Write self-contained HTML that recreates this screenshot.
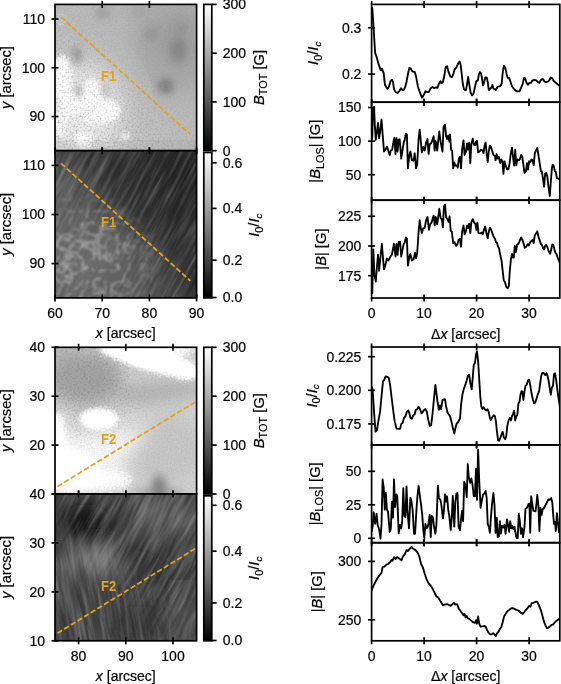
<!DOCTYPE html>
<html><head><meta charset="utf-8"><title>figure</title>
<style>html,body{margin:0;padding:0;background:#fff}svg{display:block}text{font-family:"Liberation Sans", sans-serif;fill:#000;stroke:#000;stroke-width:0.2px}</style>
</head><body>
<svg width="561" height="684" viewBox="0 0 561 684">
<rect width="561" height="684" fill="#fff"/>
<defs>
<linearGradient id="cbg" x1="0" y1="1" x2="0" y2="0"><stop offset="0" stop-color="#000"/><stop offset="1" stop-color="#fff"/></linearGradient>
<clipPath id="clip0"><rect x="55.0" y="4.4" width="141.6" height="146.29999999999998"/></clipPath>
<clipPath id="clip1"><rect x="55.0" y="150.7" width="141.6" height="147.2"/></clipPath>
<clipPath id="clip2"><rect x="55.0" y="347.3" width="141.6" height="146.7"/></clipPath>
<clipPath id="clip3"><rect x="55.0" y="494.0" width="141.6" height="146.79999999999995"/></clipPath>

<filter id="b1" x="-5%" y="-5%" width="110%" height="110%"><feGaussianBlur stdDeviation="0.8"/></filter>
<filter id="b3" x="-30%" y="-30%" width="160%" height="160%"><feGaussianBlur stdDeviation="3"/></filter>
<filter id="b5" x="-30%" y="-30%" width="160%" height="160%"><feGaussianBlur stdDeviation="5"/></filter>
<filter id="b8" x="-40%" y="-40%" width="180%" height="180%"><feGaussianBlur stdDeviation="8"/></filter>
<filter id="b14" x="-50%" y="-50%" width="200%" height="200%"><feGaussianBlur stdDeviation="14"/></filter>
<filter id="satW" filterUnits="userSpaceOnUse" x="40" y="0" width="170" height="650" color-interpolation-filters="sRGB">
 <feGaussianBlur in="SourceGraphic" stdDeviation="4" result="bl"/>
 <feTurbulence type="fractalNoise" baseFrequency="0.5" numOctaves="2" seed="3" result="n"/>
 <feColorMatrix in="n" type="matrix" values="0 0 0 0 1  0 0 0 0 1  0 0 0 0 1  1 0 0 0 0" result="na"/>
 <feComposite in="bl" in2="na" operator="arithmetic" k1="0" k2="1" k3="0.7" k4="-0.35" result="sum"/>
 <feComponentTransfer><feFuncA type="linear" slope="2.0" intercept="-0.4"/></feComponentTransfer>
 <feGaussianBlur stdDeviation="0.45"/>
</filter>
<filter id="grainD" x="0" y="0" width="100%" height="100%" color-interpolation-filters="sRGB">
 <feTurbulence type="fractalNoise" baseFrequency="0.5" numOctaves="2" seed="7"/>
 <feColorMatrix type="matrix" values="0 0 0 0 0.45  0 0 0 0 0.45  0 0 0 0 0.45  3.4 0 0 0 -1.6"/>
</filter>
<filter id="grainW" x="0" y="0" width="100%" height="100%" color-interpolation-filters="sRGB">
 <feTurbulence type="fractalNoise" baseFrequency="0.3" numOctaves="2" seed="21"/>
 <feColorMatrix type="matrix" values="0 0 0 0 1  0 0 0 0 1  0 0 0 0 1  0 3.4 0 0 -1.4"/>
</filter>
<filter id="fineN" x="0" y="0" width="100%" height="100%" color-interpolation-filters="sRGB">
 <feTurbulence type="fractalNoise" baseFrequency="0.7" numOctaves="1" seed="11"/>
 <feColorMatrix type="matrix" values="0 0 0 0 0.5  0 0 0 0 0.5  0 0 0 0 0.5  1.2 0 0 0 -0.45"/>
</filter>
<filter id="fibW" x="0" y="0" width="100%" height="100%" color-interpolation-filters="sRGB">
 <feTurbulence type="fractalNoise" baseFrequency="0.022 0.28" numOctaves="2" seed="5"/>
 <feColorMatrix type="matrix" values="0 0 0 0 1  0 0 0 0 1  0 0 0 0 1  2.4 0 0 0 -0.95"/><feGaussianBlur stdDeviation="0.6"/>
</filter>
<filter id="fibD" x="0" y="0" width="100%" height="100%" color-interpolation-filters="sRGB">
 <feTurbulence type="fractalNoise" baseFrequency="0.026 0.3" numOctaves="2" seed="9"/>
 <feColorMatrix type="matrix" values="0 0 0 0 0  0 0 0 0 0  0 0 0 0 0  0 2.4 0 0 -0.95"/><feGaussianBlur stdDeviation="0.6"/>
</filter>
<filter id="blotW" x="0" y="0" width="100%" height="100%" color-interpolation-filters="sRGB">
 <feTurbulence type="turbulence" baseFrequency="0.085" numOctaves="3" seed="4"/>
 <feColorMatrix type="matrix" values="0 0 0 0 1  0 0 0 0 1  0 0 0 0 1  -3.4 0 0 0 0.95"/>
</filter>
<linearGradient id="mLL0" gradientUnits="userSpaceOnUse" x1="55" y1="150" x2="140" y2="60"><stop offset="0" stop-color="#fff" stop-opacity="1"/><stop offset="0.5" stop-color="#fff" stop-opacity="0.8"/><stop offset="0.85" stop-color="#fff" stop-opacity="0.25"/><stop offset="1" stop-color="#fff" stop-opacity="0"/></linearGradient>
<mask id="mask0" maskUnits="userSpaceOnUse" x="55" y="4" width="142" height="147"><rect x="55" y="4" width="142" height="147" fill="url(#mLL0)"/></mask>
<radialGradient id="mLL1" gradientUnits="userSpaceOnUse" cx="85" cy="262" r="80"><stop offset="0" stop-color="#fff" stop-opacity="1"/><stop offset="0.5" stop-color="#fff" stop-opacity="0.8"/><stop offset="1" stop-color="#fff" stop-opacity="0"/></radialGradient>
<radialGradient id="mLL1k" gradientUnits="userSpaceOnUse" cx="82" cy="262" r="78"><stop offset="0" stop-color="#000" stop-opacity="0.8"/><stop offset="0.55" stop-color="#000" stop-opacity="0.65"/><stop offset="1" stop-color="#000" stop-opacity="0"/></radialGradient>
<mask id="mask1f" maskUnits="userSpaceOnUse" x="55" y="150" width="142" height="148"><rect x="55" y="150" width="142" height="148" fill="#fff"/><rect x="55" y="150" width="142" height="148" fill="url(#mLL1k)"/></mask>
<linearGradient id="m3a" gradientUnits="userSpaceOnUse" x1="70" y1="630" x2="170" y2="520"><stop offset="0" stop-color="#fff" stop-opacity="0"/><stop offset="0.35" stop-color="#fff" stop-opacity="0.1"/><stop offset="0.65" stop-color="#fff" stop-opacity="1"/><stop offset="1" stop-color="#fff" stop-opacity="1"/></linearGradient>
<linearGradient id="m3b" gradientUnits="userSpaceOnUse" x1="70" y1="630" x2="170" y2="520"><stop offset="0" stop-color="#fff" stop-opacity="1"/><stop offset="0.35" stop-color="#fff" stop-opacity="0.9"/><stop offset="0.65" stop-color="#fff" stop-opacity="0"/><stop offset="1" stop-color="#fff" stop-opacity="0"/></linearGradient>
<mask id="mask3a" maskUnits="userSpaceOnUse" x="55" y="494" width="142" height="148"><rect x="55" y="494" width="142" height="148" fill="url(#m3a)"/></mask>
<mask id="mask3b" maskUnits="userSpaceOnUse" x="55" y="494" width="142" height="148"><rect x="55" y="494" width="142" height="148" fill="url(#m3b)"/></mask>
<mask id="mask1" maskUnits="userSpaceOnUse" x="55" y="150" width="142" height="148"><rect x="55" y="150" width="142" height="148" fill="url(#mLL1)"/></mask>
<radialGradient id="mUL2" gradientUnits="userSpaceOnUse" cx="85" cy="385" r="75"><stop offset="0" stop-color="#fff" stop-opacity="0.7"/><stop offset="0.6" stop-color="#fff" stop-opacity="0.45"/><stop offset="1" stop-color="#fff" stop-opacity="0"/></radialGradient>
<mask id="mask2" maskUnits="userSpaceOnUse" x="55" y="347" width="142" height="148"><rect x="55" y="347" width="142" height="148" fill="url(#mUL2)"/></mask>
<linearGradient id="g0" gradientUnits="userSpaceOnUse" x1="60" y1="150" x2="195" y2="10"><stop offset="0" stop-color="#cecece"/><stop offset="0.5" stop-color="#bebebe"/><stop offset="1" stop-color="#b0b0b0"/></linearGradient>
<linearGradient id="g1" gradientUnits="userSpaceOnUse" x1="60" y1="296" x2="190" y2="160"><stop offset="0" stop-color="#666666"/><stop offset="0.42" stop-color="#5a5a5a"/><stop offset="0.6" stop-color="#3a3a3a"/><stop offset="1" stop-color="#2c2c2c"/></linearGradient>
<linearGradient id="g2" gradientUnits="userSpaceOnUse" x1="60" y1="350" x2="190" y2="490"><stop offset="0" stop-color="#a8a8a8"/><stop offset="0.5" stop-color="#cfcfcf"/><stop offset="1" stop-color="#c4c4c4"/></linearGradient>
<linearGradient id="g3" gradientUnits="userSpaceOnUse" x1="60" y1="500" x2="190" y2="640"><stop offset="0" stop-color="#3a3a3a"/><stop offset="0.5" stop-color="#4c4c4c"/><stop offset="1" stop-color="#505050"/></linearGradient>

</defs>
<g clip-path="url(#clip0)">
<rect x="55.0" y="4.4" width="141.6" height="146.29999999999998" fill="url(#g0)" /><g filter="url(#b14)"><ellipse cx="172" cy="50" rx="38" ry="45" fill="#000" fill-opacity="0.1"/><ellipse cx="78" cy="108" rx="44" ry="46" fill="#fff" fill-opacity="0.72"/><ellipse cx="100" cy="142" rx="50" ry="10" fill="#fff" fill-opacity="0.2"/></g><g filter="url(#b5)"><ellipse cx="165.6" cy="86.2" rx="6" ry="5" fill="#181818" fill-opacity="0.6"/><ellipse cx="178" cy="50" rx="9" ry="12" fill="#404040" fill-opacity="0.3"/><ellipse cx="181" cy="28" rx="7" ry="7" fill="#404040" fill-opacity="0.2"/><ellipse cx="151" cy="34" rx="8" ry="8" fill="#505050" fill-opacity="0.2"/><ellipse cx="102.8" cy="12.7" rx="7" ry="5" fill="#404040" fill-opacity="0.3"/><ellipse cx="138" cy="12" rx="8" ry="5" fill="#505050" fill-opacity="0.15"/></g><rect x="55.0" y="4.4" width="141.6" height="146.29999999999998" fill="#000" filter="url(#fineN)" opacity="0.3"/><g filter="url(#satW)"><ellipse cx="62" cy="76" rx="9" ry="22" fill="#fff" fill-opacity="1"/><ellipse cx="72" cy="104" rx="12" ry="12" fill="#fff" fill-opacity="0.8"/><ellipse cx="92" cy="94" rx="9" ry="15" fill="#fff" fill-opacity="0.95"/><ellipse cx="109" cy="111" rx="11" ry="11" fill="#fff" fill-opacity="1"/><ellipse cx="95" cy="118" rx="14" ry="8" fill="#fff" fill-opacity="0.7"/><ellipse cx="84" cy="140" rx="9" ry="8" fill="#fff" fill-opacity="1"/><ellipse cx="125" cy="136.5" rx="5" ry="5" fill="#fff" fill-opacity="1"/><ellipse cx="60" cy="125" rx="7" ry="14" fill="#fff" fill-opacity="0.7"/><ellipse cx="60" cy="20" rx="4" ry="10" fill="#fff" fill-opacity="0.45"/><ellipse cx="108" cy="143" rx="8" ry="4" fill="#fff" fill-opacity="0.5"/></g><g filter="url(#b3)"><ellipse cx="78" cy="56" rx="4" ry="9" fill="#505050" fill-opacity="0.38"/><ellipse cx="73" cy="50" rx="2.5" ry="6" fill="#606060" fill-opacity="0.25"/><ellipse cx="79" cy="92" rx="3" ry="7" fill="#606060" fill-opacity="0.45"/><ellipse cx="105" cy="90" rx="3" ry="7" fill="#606060" fill-opacity="0.3"/><ellipse cx="68" cy="60" rx="2" ry="6" fill="#606060" fill-opacity="0.2"/></g><rect x="55.0" y="140" width="141.6" height="10.699999999999989" fill="#888" opacity="0.12"/><g mask="url(#mask0)" opacity="0.4"><rect x="55.0" y="4.4" width="141.6" height="146.29999999999998" fill="#000" filter="url(#grainD)"/></g>
</g>
<line x1="61" y1="17" x2="190.3" y2="134.5" stroke="#e2a21f" stroke-width="1.8" stroke-dasharray="5.4 2.4"/>
<text transform="translate(101 81) scale(1 1.16)" text-anchor="start" font-size="13" style="fill:#e2a21f;stroke:none" font-weight="bold">F1</text>
<rect x="55.0" y="4.4" width="141.6" height="146.29999999999998" fill="none" stroke="#000" stroke-width="1.7"/>
<line x1="102.2" y1="0.9000000000000004" x2="102.2" y2="7.9" stroke="#000" stroke-width="1.7"/>
<line x1="102.2" y1="147.2" x2="102.2" y2="154.2" stroke="#000" stroke-width="1.7"/>
<line x1="149.4" y1="0.9000000000000004" x2="149.4" y2="7.9" stroke="#000" stroke-width="1.7"/>
<line x1="149.4" y1="147.2" x2="149.4" y2="154.2" stroke="#000" stroke-width="1.7"/>
<line x1="51.5" y1="116.56" x2="58.5" y2="116.56" stroke="#000" stroke-width="1.7"/>
<text transform="translate(45.0 121.36) scale(1 1.05)" text-anchor="end" font-size="14.0" >90</text>
<line x1="51.5" y1="67.8" x2="58.5" y2="67.8" stroke="#000" stroke-width="1.7"/>
<text transform="translate(45.0 72.6) scale(1 1.05)" text-anchor="end" font-size="14.0" >100</text>
<line x1="51.5" y1="19.03" x2="58.5" y2="19.03" stroke="#000" stroke-width="1.7"/>
<text transform="translate(45.0 23.83) scale(1 1.05)" text-anchor="end" font-size="14.0" >110</text>
<text transform="translate(10.8 77.55) rotate(-90) scale(1.05 1)" text-anchor="middle" font-size="14.0" ><tspan font-style="italic">y</tspan> [arcsec]</text>
<g clip-path="url(#clip1)">
<rect x="55.0" y="150.7" width="141.6" height="147.2" fill="url(#g1)" /><g filter="url(#b14)"><ellipse cx="85" cy="258" rx="36" ry="34" fill="#fff" fill-opacity="0.08"/><ellipse cx="188" cy="292" rx="34" ry="26" fill="#000" fill-opacity="0.32"/><ellipse cx="165" cy="195" rx="40" ry="45" fill="#000" fill-opacity="0.2"/><ellipse cx="68" cy="180" rx="12" ry="22" fill="#fff" fill-opacity="0.1"/></g><g mask="url(#mask1f)"><g transform="rotate(-61 125.8 224.29999999999998)" opacity="0.2"><rect x="-5.0" y="90.69999999999999" width="261.6" height="267.2" fill="#000" filter="url(#fibW)"/></g><g transform="rotate(-64 125.8 224.29999999999998)" opacity="0.22"><rect x="-5.0" y="90.69999999999999" width="261.6" height="267.2" fill="#000" filter="url(#fibD)"/></g></g><g mask="url(#mask1)" opacity="0.55" filter="url(#b1)"><rect x="55.0" y="150.7" width="141.6" height="147.2" fill="#000" filter="url(#blotW)"/></g>
</g>
<line x1="61" y1="163.3" x2="190.3" y2="280.8" stroke="#e2a21f" stroke-width="1.8" stroke-dasharray="5.4 2.4"/>
<text transform="translate(101 227.3) scale(1 1.16)" text-anchor="start" font-size="13" style="fill:#e2a21f;stroke:none" font-weight="bold">F1</text>
<rect x="55.0" y="150.7" width="141.6" height="147.2" fill="none" stroke="#000" stroke-width="1.7"/>
<line x1="55.0" y1="147.2" x2="55.0" y2="154.2" stroke="#000" stroke-width="1.7"/>
<line x1="55.0" y1="294.4" x2="55.0" y2="301.4" stroke="#000" stroke-width="1.7"/>
<text transform="translate(55.0 318.2) scale(1 1.05)" text-anchor="middle" font-size="14.0" >60</text>
<line x1="102.2" y1="147.2" x2="102.2" y2="154.2" stroke="#000" stroke-width="1.7"/>
<line x1="102.2" y1="294.4" x2="102.2" y2="301.4" stroke="#000" stroke-width="1.7"/>
<text transform="translate(102.2 318.2) scale(1 1.05)" text-anchor="middle" font-size="14.0" >70</text>
<line x1="149.4" y1="147.2" x2="149.4" y2="154.2" stroke="#000" stroke-width="1.7"/>
<line x1="149.4" y1="294.4" x2="149.4" y2="301.4" stroke="#000" stroke-width="1.7"/>
<text transform="translate(149.4 318.2) scale(1 1.05)" text-anchor="middle" font-size="14.0" >80</text>
<line x1="196.6" y1="147.2" x2="196.6" y2="154.2" stroke="#000" stroke-width="1.7"/>
<line x1="196.6" y1="294.4" x2="196.6" y2="301.4" stroke="#000" stroke-width="1.7"/>
<text transform="translate(196.6 318.2) scale(1 1.05)" text-anchor="middle" font-size="14.0" >90</text>
<line x1="51.5" y1="263.55" x2="58.5" y2="263.55" stroke="#000" stroke-width="1.7"/>
<text transform="translate(45.0 268.35) scale(1 1.05)" text-anchor="end" font-size="14.0" >90</text>
<line x1="51.5" y1="214.49" x2="58.5" y2="214.49" stroke="#000" stroke-width="1.7"/>
<text transform="translate(45.0 219.29) scale(1 1.05)" text-anchor="end" font-size="14.0" >100</text>
<line x1="51.5" y1="165.42" x2="58.5" y2="165.42" stroke="#000" stroke-width="1.7"/>
<text transform="translate(45.0 170.22) scale(1 1.05)" text-anchor="end" font-size="14.0" >110</text>
<text transform="translate(10.8 224.29999999999998) rotate(-90) scale(1.05 1)" text-anchor="middle" font-size="14.0" ><tspan font-style="italic">y</tspan> [arcsec]</text>
<text transform="translate(125.8 338.4) scale(1 1.05)" text-anchor="middle" font-size="14.0" ><tspan font-style="italic">x</tspan> [arcsec]</text>
<g clip-path="url(#clip2)">
<rect x="55.0" y="347.3" width="141.6" height="146.7" fill="#d2d2d2" /><g filter="url(#b8)"><ellipse cx="84" cy="378" rx="38" ry="27" fill="#a2a2a2" fill-opacity="0.95"/><ellipse cx="60" cy="352" rx="14" ry="10" fill="#b0b0b0" fill-opacity="0.8"/><ellipse cx="160" cy="392" rx="48" ry="10" fill="#a8a8a8" fill-opacity="0.75" transform="rotate(-6 160 392)"/><ellipse cx="168" cy="450" rx="34" ry="34" fill="#c4c4c4" fill-opacity="0.75"/><ellipse cx="80" cy="468" rx="46" ry="28" fill="#fff" fill-opacity="0.8"/><ellipse cx="60" cy="438" rx="12" ry="24" fill="#fff" fill-opacity="0.8"/><ellipse cx="130" cy="430" rx="22" ry="16" fill="#e4e4e4" fill-opacity="0.7"/><ellipse cx="104" cy="443" rx="36" ry="14" fill="#fff" fill-opacity="0.8"/></g><g filter="url(#b5)"><ellipse cx="159" cy="487" rx="7" ry="12" fill="#585858" fill-opacity="0.7"/><ellipse cx="159" cy="494" rx="26" ry="5" fill="#777" fill-opacity="0.6"/></g><rect x="55.0" y="347.3" width="141.6" height="146.7" fill="#000" filter="url(#fineN)" opacity="0.3"/><g mask="url(#mask2)" opacity="0.5"><rect x="55.0" y="347.3" width="141.6" height="146.7" fill="#000" filter="url(#grainD)"/></g><g filter="url(#satW)"><ellipse cx="152" cy="360" rx="52" ry="11" fill="#fff" fill-opacity="1" transform="rotate(15 152 360)"/><ellipse cx="122" cy="349" rx="24" ry="7" fill="#fff" fill-opacity="1"/><ellipse cx="186" cy="372" rx="14" ry="8" fill="#fff" fill-opacity="0.85"/><ellipse cx="166" cy="349" rx="34" ry="6" fill="#fff" fill-opacity="0.8"/><ellipse cx="99" cy="419" rx="20" ry="10.5" fill="#fff" fill-opacity="1"/><ellipse cx="99" cy="419" rx="14" ry="6" fill="#fff" fill-opacity="1"/><ellipse cx="57" cy="424" rx="6" ry="12" fill="#fff" fill-opacity="1"/><ellipse cx="70" cy="470" rx="30" ry="22" fill="#fff" fill-opacity="0.8"/><ellipse cx="60" cy="445" rx="8" ry="18" fill="#fff" fill-opacity="0.8"/><ellipse cx="105" cy="480" rx="30" ry="12" fill="#fff" fill-opacity="0.6"/></g>
</g>
<line x1="57.5" y1="486.5" x2="196" y2="401.5" stroke="#e2a21f" stroke-width="1.8" stroke-dasharray="5.4 2.4"/>
<text transform="translate(101 444) scale(1 1.16)" text-anchor="start" font-size="13" style="fill:#e2a21f;stroke:none" font-weight="bold">F2</text>
<rect x="55.0" y="347.3" width="141.6" height="146.7" fill="none" stroke="#000" stroke-width="1.7"/>
<line x1="78.6" y1="343.8" x2="78.6" y2="350.8" stroke="#000" stroke-width="1.7"/>
<line x1="78.6" y1="490.5" x2="78.6" y2="497.5" stroke="#000" stroke-width="1.7"/>
<line x1="125.8" y1="343.8" x2="125.8" y2="350.8" stroke="#000" stroke-width="1.7"/>
<line x1="125.8" y1="490.5" x2="125.8" y2="497.5" stroke="#000" stroke-width="1.7"/>
<line x1="173.0" y1="343.8" x2="173.0" y2="350.8" stroke="#000" stroke-width="1.7"/>
<line x1="173.0" y1="490.5" x2="173.0" y2="497.5" stroke="#000" stroke-width="1.7"/>
<line x1="51.5" y1="494.0" x2="58.5" y2="494.0" stroke="#000" stroke-width="1.7"/>
<line x1="51.5" y1="445.1" x2="58.5" y2="445.1" stroke="#000" stroke-width="1.7"/>
<text transform="translate(45.0 449.9) scale(1 1.05)" text-anchor="end" font-size="14.0" >20</text>
<line x1="51.5" y1="396.2" x2="58.5" y2="396.2" stroke="#000" stroke-width="1.7"/>
<text transform="translate(45.0 401.0) scale(1 1.05)" text-anchor="end" font-size="14.0" >30</text>
<line x1="51.5" y1="347.3" x2="58.5" y2="347.3" stroke="#000" stroke-width="1.7"/>
<text transform="translate(45.0 352.1) scale(1 1.05)" text-anchor="end" font-size="14.0" >40</text>
<text transform="translate(10.8 420.65) rotate(-90) scale(1.05 1)" text-anchor="middle" font-size="14.0" ><tspan font-style="italic">y</tspan> [arcsec]</text>
<g clip-path="url(#clip3)">
<rect x="55.0" y="494.0" width="141.6" height="146.79999999999995" fill="#464646" /><g filter="url(#b8)"><ellipse cx="86" cy="524" rx="24" ry="20" fill="#101010" fill-opacity="0.85"/><ellipse cx="166" cy="513" rx="36" ry="18" fill="#808080" fill-opacity="0.55"/><ellipse cx="97" cy="560" rx="24" ry="15" fill="#a0a0a0" fill-opacity="0.6"/><ellipse cx="62" cy="570" rx="10" ry="18" fill="#888" fill-opacity="0.45"/><ellipse cx="146" cy="566" rx="30" ry="18" fill="#262626" fill-opacity="0.5" transform="rotate(25 146 566)"/><ellipse cx="85" cy="610" rx="34" ry="22" fill="#4a4a4a" fill-opacity="0.3"/><ellipse cx="140" cy="620" rx="30" ry="22" fill="#2c2c2c" fill-opacity="0.45"/></g><rect x="169" y="580" width="27.599999999999994" height="60.799999999999955" fill="#fff" opacity="0.06"/><g mask="url(#mask3a)"><g transform="rotate(-60 125.8 567.4)" opacity="0.24"><rect x="-5.0" y="434.0" width="261.6" height="266.79999999999995" fill="#000" filter="url(#fibW)"/></g><g transform="rotate(-66 125.8 567.4)" opacity="0.3"><rect x="-5.0" y="434.0" width="261.6" height="266.79999999999995" fill="#000" filter="url(#fibD)"/></g></g><g mask="url(#mask3b)"><g transform="rotate(-98 125.8 567.4)" opacity="0.22"><rect x="-5.0" y="434.0" width="261.6" height="266.79999999999995" fill="#000" filter="url(#fibW)"/></g><g transform="rotate(-104 125.8 567.4)" opacity="0.28"><rect x="-5.0" y="434.0" width="261.6" height="266.79999999999995" fill="#000" filter="url(#fibD)"/></g></g>
</g>
<line x1="57.5" y1="633.2" x2="196" y2="548.2" stroke="#e2a21f" stroke-width="1.8" stroke-dasharray="5.4 2.4"/>
<text transform="translate(101 590.7) scale(1 1.16)" text-anchor="start" font-size="13" style="fill:#e2a21f;stroke:none" font-weight="bold">F2</text>
<rect x="55.0" y="494.0" width="141.6" height="146.79999999999995" fill="none" stroke="#000" stroke-width="1.7"/>
<line x1="78.6" y1="490.5" x2="78.6" y2="497.5" stroke="#000" stroke-width="1.7"/>
<line x1="78.6" y1="637.3" x2="78.6" y2="644.3" stroke="#000" stroke-width="1.7"/>
<text transform="translate(78.6 661.0999999999999) scale(1 1.05)" text-anchor="middle" font-size="14.0" >80</text>
<line x1="125.8" y1="490.5" x2="125.8" y2="497.5" stroke="#000" stroke-width="1.7"/>
<line x1="125.8" y1="637.3" x2="125.8" y2="644.3" stroke="#000" stroke-width="1.7"/>
<text transform="translate(125.8 661.0999999999999) scale(1 1.05)" text-anchor="middle" font-size="14.0" >90</text>
<line x1="173.0" y1="490.5" x2="173.0" y2="497.5" stroke="#000" stroke-width="1.7"/>
<line x1="173.0" y1="637.3" x2="173.0" y2="644.3" stroke="#000" stroke-width="1.7"/>
<text transform="translate(173.0 661.0999999999999) scale(1 1.05)" text-anchor="middle" font-size="14.0" >100</text>
<line x1="51.5" y1="640.8" x2="58.5" y2="640.8" stroke="#000" stroke-width="1.7"/>
<text transform="translate(45.0 645.6) scale(1 1.05)" text-anchor="end" font-size="14.0" >10</text>
<line x1="51.5" y1="591.87" x2="58.5" y2="591.87" stroke="#000" stroke-width="1.7"/>
<text transform="translate(45.0 596.67) scale(1 1.05)" text-anchor="end" font-size="14.0" >20</text>
<line x1="51.5" y1="542.93" x2="58.5" y2="542.93" stroke="#000" stroke-width="1.7"/>
<text transform="translate(45.0 547.73) scale(1 1.05)" text-anchor="end" font-size="14.0" >30</text>
<line x1="51.5" y1="494.0" x2="58.5" y2="494.0" stroke="#000" stroke-width="1.7"/>
<text transform="translate(45.0 498.8) scale(1 1.05)" text-anchor="end" font-size="14.0" >40</text>
<text transform="translate(10.8 567.4) rotate(-90) scale(1.05 1)" text-anchor="middle" font-size="14.0" ><tspan font-style="italic">y</tspan> [arcsec]</text>
<text transform="translate(125.8 681.3) scale(1 1.05)" text-anchor="middle" font-size="14.0" ><tspan font-style="italic">x</tspan> [arcsec]</text>
<rect x="203.8" y="4.4" width="8.0" height="146.29999999999998" fill="url(#cbg)" stroke="#000" stroke-width="1.7"/>
<line x1="211.8" y1="150.7" x2="216.60000000000002" y2="150.7" stroke="#000" stroke-width="1.7"/>
<text transform="translate(222.8 155.5) scale(1 1.05)" text-anchor="start" font-size="14.0" >0</text>
<line x1="211.8" y1="101.93" x2="216.60000000000002" y2="101.93" stroke="#000" stroke-width="1.7"/>
<text transform="translate(222.8 106.73) scale(1 1.05)" text-anchor="start" font-size="14.0" >100</text>
<line x1="211.8" y1="53.17" x2="216.60000000000002" y2="53.17" stroke="#000" stroke-width="1.7"/>
<text transform="translate(222.8 57.97) scale(1 1.05)" text-anchor="start" font-size="14.0" >200</text>
<line x1="211.8" y1="4.4" x2="216.60000000000002" y2="4.4" stroke="#000" stroke-width="1.7"/>
<text transform="translate(222.8 9.2) scale(1 1.05)" text-anchor="start" font-size="14.0" >300</text>
<text transform="translate(263.6 77.55) rotate(-90) scale(1.05 1)" text-anchor="middle" font-size="14.0" ><tspan font-style="italic">B</tspan><tspan font-size="10.4" dy="3.6">TOT</tspan><tspan dy="-3.6"> [G]</tspan></text>
<rect x="203.8" y="152.5" width="8.0" height="145.39999999999998" fill="url(#cbg)" stroke="#000" stroke-width="1.7"/>
<line x1="211.8" y1="297.5" x2="216.60000000000002" y2="297.5" stroke="#000" stroke-width="1.7"/>
<text transform="translate(222.8 302.3) scale(1 1.05)" text-anchor="start" font-size="14.0" >0.0</text>
<line x1="211.8" y1="260.2" x2="216.60000000000002" y2="260.2" stroke="#000" stroke-width="1.7"/>
<text transform="translate(222.8 265.0) scale(1 1.05)" text-anchor="start" font-size="14.0" >0.2</text>
<line x1="211.8" y1="208.4" x2="216.60000000000002" y2="208.4" stroke="#000" stroke-width="1.7"/>
<text transform="translate(222.8 213.2) scale(1 1.05)" text-anchor="start" font-size="14.0" >0.4</text>
<line x1="211.8" y1="162.8" x2="216.60000000000002" y2="162.8" stroke="#000" stroke-width="1.7"/>
<text transform="translate(222.8 167.6) scale(1 1.05)" text-anchor="start" font-size="14.0" >0.6</text>
<text transform="translate(259.2 225.2) rotate(-90) scale(1.05 1)" text-anchor="middle" font-size="14.0" ><tspan font-style="italic">I</tspan><tspan font-size="10.4" dy="3.6">0</tspan><tspan dy="-3.6">/</tspan><tspan font-style="italic">I</tspan><tspan font-size="9.3" font-style="italic" dy="2.5">c</tspan></text>
<rect x="203.8" y="347.3" width="8.0" height="146.7" fill="url(#cbg)" stroke="#000" stroke-width="1.7"/>
<line x1="211.8" y1="494.0" x2="216.60000000000002" y2="494.0" stroke="#000" stroke-width="1.7"/>
<text transform="translate(222.8 498.8) scale(1 1.05)" text-anchor="start" font-size="14.0" >0</text>
<line x1="211.8" y1="445.1" x2="216.60000000000002" y2="445.1" stroke="#000" stroke-width="1.7"/>
<text transform="translate(222.8 449.9) scale(1 1.05)" text-anchor="start" font-size="14.0" >100</text>
<line x1="211.8" y1="396.2" x2="216.60000000000002" y2="396.2" stroke="#000" stroke-width="1.7"/>
<text transform="translate(222.8 401.0) scale(1 1.05)" text-anchor="start" font-size="14.0" >200</text>
<line x1="211.8" y1="347.3" x2="216.60000000000002" y2="347.3" stroke="#000" stroke-width="1.7"/>
<text transform="translate(222.8 352.1) scale(1 1.05)" text-anchor="start" font-size="14.0" >300</text>
<text transform="translate(263.6 420.65) rotate(-90) scale(1.05 1)" text-anchor="middle" font-size="14.0" ><tspan font-style="italic">B</tspan><tspan font-size="10.4" dy="3.6">TOT</tspan><tspan dy="-3.6"> [G]</tspan></text>
<rect x="203.8" y="495.8" width="8.0" height="144.99999999999994" fill="url(#cbg)" stroke="#000" stroke-width="1.7"/>
<line x1="211.8" y1="640.5" x2="216.60000000000002" y2="640.5" stroke="#000" stroke-width="1.7"/>
<text transform="translate(222.8 645.3) scale(1 1.05)" text-anchor="start" font-size="14.0" >0.0</text>
<line x1="211.8" y1="602.9" x2="216.60000000000002" y2="602.9" stroke="#000" stroke-width="1.7"/>
<text transform="translate(222.8 607.7) scale(1 1.05)" text-anchor="start" font-size="14.0" >0.2</text>
<line x1="211.8" y1="551.2" x2="216.60000000000002" y2="551.2" stroke="#000" stroke-width="1.7"/>
<text transform="translate(222.8 556.0) scale(1 1.05)" text-anchor="start" font-size="14.0" >0.4</text>
<line x1="211.8" y1="505.3" x2="216.60000000000002" y2="505.3" stroke="#000" stroke-width="1.7"/>
<text transform="translate(222.8 510.1) scale(1 1.05)" text-anchor="start" font-size="14.0" >0.6</text>
<text transform="translate(259.2 568.3) rotate(-90) scale(1.05 1)" text-anchor="middle" font-size="14.0" ><tspan font-style="italic">I</tspan><tspan font-size="10.4" dy="3.6">0</tspan><tspan dy="-3.6">/</tspan><tspan font-style="italic">I</tspan><tspan font-size="9.3" font-style="italic" dy="2.5">c</tspan></text>
<rect x="371.6" y="4.4" width="188.19999999999993" height="97.8" fill="none" stroke="#000" stroke-width="1.7"/>
<line x1="371.6" y1="102.2" x2="371.6" y2="105.7" stroke="#000" stroke-width="1.7"/>
<line x1="371.6" y1="0.9000000000000004" x2="371.6" y2="4.4" stroke="#000" stroke-width="1.7"/>
<line x1="424.1" y1="0.9000000000000004" x2="424.1" y2="7.9" stroke="#000" stroke-width="1.7"/>
<line x1="424.1" y1="98.7" x2="424.1" y2="105.7" stroke="#000" stroke-width="1.7"/>
<line x1="476.6" y1="0.9000000000000004" x2="476.6" y2="7.9" stroke="#000" stroke-width="1.7"/>
<line x1="476.6" y1="98.7" x2="476.6" y2="105.7" stroke="#000" stroke-width="1.7"/>
<line x1="529.1" y1="0.9000000000000004" x2="529.1" y2="7.9" stroke="#000" stroke-width="1.7"/>
<line x1="529.1" y1="98.7" x2="529.1" y2="105.7" stroke="#000" stroke-width="1.7"/>
<line x1="368.1" y1="74.1" x2="375.1" y2="74.1" stroke="#000" stroke-width="1.7"/>
<text transform="translate(361.4 78.9) scale(1 1.05)" text-anchor="end" font-size="14.0" >0.2</text>
<line x1="368.1" y1="27.8" x2="375.1" y2="27.8" stroke="#000" stroke-width="1.7"/>
<text transform="translate(361.4 32.6) scale(1 1.05)" text-anchor="end" font-size="14.0" >0.3</text>
<text transform="translate(318 53.300000000000004) rotate(-90) scale(1.05 1)" text-anchor="middle" font-size="14.0" ><tspan font-style="italic">I</tspan><tspan font-size="10.4" dy="3.6">0</tspan><tspan dy="-3.6">/</tspan><tspan font-style="italic">I</tspan><tspan font-size="9.3" font-style="italic" dy="2.5">c</tspan></text>
<svg x="371.6" y="4.4" width="188.19999999999993" height="97.8" viewBox="371.6 4.4 188.19999999999993 97.8" overflow="hidden"><polyline points="371.6,10.7 372.3,8.0 373.3,23.2 374.4,41.0 375.1,52.6 376.6,57.0 378.3,63.3 380.1,68.6 380.8,70.4 381.9,68.6 383.7,73.1 384.9,84.7 386.4,87.3 387.6,88.8 389.0,86.5 390.5,81.1 391.9,79.7 393.0,82.0 394.0,89.1 395.6,92.2 397.4,93.0 399.2,91.3 401.0,88.2 402.2,90.0 403.7,90.0 405.1,87.3 406.5,82.0 408.1,73.1 409.4,67.7 410.8,68.6 412.2,71.3 414.7,71.8 416.1,76.6 417.9,86.5 420.0,92.7 422.0,97.7 423.6,95.4 425.4,91.3 427.4,92.2 429.0,91.8 430.7,88.2 432.5,87.0 434.3,88.2 436.1,87.3 437.5,87.9 438.9,83.8 440.4,81.1 441.4,83.4 442.9,82.0 444.3,75.8 445.7,66.8 447.1,66.3 448.6,72.2 450.4,76.6 452.1,77.0 453.6,73.1 454.6,69.5 456.4,67.7 458.2,63.3 459.6,61.5 460.7,65.1 461.8,74.9 462.8,83.8 463.9,89.1 465.3,90.4 466.0,90.0 467.1,83.8 468.1,77.0 469.2,83.8 470.6,92.7 472.1,95.4 473.5,93.6 474.9,87.3 476.3,81.1 477.8,80.6 478.8,74.9 479.9,72.2 481.0,73.1 482.0,78.4 483.1,85.6 484.2,82.0 485.2,77.5 486.7,77.5 487.7,82.0 488.8,90.0 490.2,88.8 491.3,87.7 492.4,84.7 493.4,88.6 494.9,89.1 495.9,90.0 497.4,87.0 498.8,86.5 500.6,85.9 501.6,83.8 502.7,73.1 503.8,66.0 505.2,67.4 506.6,74.0 507.7,77.9 509.1,77.9 510.6,82.0 512.0,86.5 513.8,88.6 515.5,90.4 517.3,91.3 519.5,91.3 520.9,88.2 522.7,83.8 524.1,77.9 525.2,78.4 526.6,82.9 528.0,84.7 529.4,82.9 530.9,82.9 532.3,80.6 534.4,79.9 536.6,80.6 538.0,82.0 539.4,82.9 540.9,80.2 542.3,79.0 543.4,79.3 544.4,81.6 546.2,82.0 548.0,81.6 549.4,80.2 550.8,77.5 552.3,78.4 553.7,81.1 555.5,82.5 557.3,84.1 558.7,85.2 560.1,85.2" fill="none" stroke="#000" stroke-width="1.85" stroke-linejoin="round"/></svg>
<rect x="371.6" y="102.2" width="188.19999999999993" height="97.99999999999999" fill="none" stroke="#000" stroke-width="1.7"/>
<line x1="371.6" y1="200.2" x2="371.6" y2="203.7" stroke="#000" stroke-width="1.7"/>
<line x1="371.6" y1="98.7" x2="371.6" y2="102.2" stroke="#000" stroke-width="1.7"/>
<line x1="424.1" y1="98.7" x2="424.1" y2="105.7" stroke="#000" stroke-width="1.7"/>
<line x1="424.1" y1="196.7" x2="424.1" y2="203.7" stroke="#000" stroke-width="1.7"/>
<line x1="476.6" y1="98.7" x2="476.6" y2="105.7" stroke="#000" stroke-width="1.7"/>
<line x1="476.6" y1="196.7" x2="476.6" y2="203.7" stroke="#000" stroke-width="1.7"/>
<line x1="529.1" y1="98.7" x2="529.1" y2="105.7" stroke="#000" stroke-width="1.7"/>
<line x1="529.1" y1="196.7" x2="529.1" y2="203.7" stroke="#000" stroke-width="1.7"/>
<line x1="368.1" y1="174.7" x2="375.1" y2="174.7" stroke="#000" stroke-width="1.7"/>
<text transform="translate(361.4 179.5) scale(1 1.05)" text-anchor="end" font-size="14.0" >50</text>
<line x1="368.1" y1="141.1" x2="375.1" y2="141.1" stroke="#000" stroke-width="1.7"/>
<text transform="translate(361.4 145.9) scale(1 1.05)" text-anchor="end" font-size="14.0" >100</text>
<line x1="368.1" y1="107.5" x2="375.1" y2="107.5" stroke="#000" stroke-width="1.7"/>
<text transform="translate(361.4 112.3) scale(1 1.05)" text-anchor="end" font-size="14.0" >150</text>
<text transform="translate(320.3 151.2) rotate(-90) scale(1.05 1)" text-anchor="middle" font-size="14.0" >|<tspan font-style="italic">B</tspan><tspan font-size="10.4" dy="3.6">LOS</tspan><tspan dy="-3.6">| [G]</tspan></text>
<svg x="371.6" y="102.2" width="188.19999999999993" height="97.99999999999999" viewBox="371.6 102.2 188.19999999999993 97.99999999999999" overflow="hidden"><polyline points="371.6,140.8 372.3,137.2 373.0,107.8 374.1,106.9 374.8,124.7 375.8,139.9 376.9,131.9 378.0,123.0 379.1,138.1 380.1,131.9 381.5,119.4 382.6,133.7 384.0,151.5 385.5,149.7 386.9,146.5 388.0,149.7 389.7,155.0 390.8,150.6 392.2,149.7 393.3,142.6 394.4,137.6 395.5,154.1 396.5,138.1 397.6,151.5 398.7,139.4 399.7,139.4 401.2,158.6 402.6,149.7 403.7,142.6 404.7,139.9 405.8,133.7 406.9,134.5 407.9,168.4 409.4,155.0 410.4,151.5 411.9,160.4 413.6,160.7 414.7,153.3 416.1,168.4 417.2,164.0 418.6,139.0 419.7,129.7 420.8,140.8 421.8,152.4 423.3,147.0 424.7,150.6 426.1,142.6 427.5,139.0 428.6,154.1 429.7,144.3 431.1,143.5 432.5,139.9 433.6,136.3 434.7,150.6 435.7,140.8 437.2,150.6 438.2,140.8 439.3,131.5 440.4,140.8 441.4,146.1 442.5,151.5 443.6,126.5 445.0,124.7 446.1,136.3 447.1,139.0 448.2,135.4 449.3,141.7 450.0,134.5 451.1,149.7 452.1,150.6 453.2,168.4 454.3,162.5 455.3,165.7 456.8,165.4 457.8,167.5 458.9,158.6 460.0,156.8 461.0,168.4 462.1,149.7 463.5,140.4 464.6,155.0 466.0,151.5 467.1,143.5 468.1,149.7 469.2,142.6 470.3,163.1 471.3,144.3 472.8,138.6 473.8,144.7 475.3,145.2 476.0,141.7 477.0,140.8 478.1,152.4 479.5,151.5 481.0,149.7 482.7,150.6 483.5,153.3 484.5,146.1 485.6,142.6 486.7,153.3 487.7,162.2 488.8,151.5 489.9,145.8 490.9,146.5 492.4,151.5 493.4,155.0 494.9,155.9 495.6,160.4 496.7,154.1 497.7,158.6 498.8,156.8 500.2,163.1 501.3,159.5 502.4,161.3 503.4,173.8 504.5,161.3 505.6,165.4 507.0,169.3 508.4,169.3 509.5,164.0 510.6,155.0 512.0,147.6 513.0,156.8 514.1,165.7 515.2,149.7 516.3,165.4 517.3,159.5 518.8,160.4 519.8,159.5 521.2,155.0 522.3,156.8 523.4,164.8 524.5,172.9 525.9,171.1 527.0,163.1 528.0,169.7 529.1,161.3 530.5,161.8 531.6,159.5 532.7,160.4 533.7,165.4 534.8,153.3 535.9,150.6 537.3,147.9 538.4,155.0 539.4,161.3 540.9,171.1 541.9,171.4 543.0,179.1 544.1,186.8 545.1,173.8 546.2,172.9 547.3,176.4 548.3,185.3 549.8,196.0 550.8,181.8 551.9,168.4 552.6,164.8 553.7,165.7 554.8,171.1 555.8,172.0 556.9,178.2 558.3,178.6 559.4,179.1 560.5,179.6" fill="none" stroke="#000" stroke-width="1.85" stroke-linejoin="round"/></svg>
<rect x="371.6" y="200.2" width="188.19999999999993" height="97.80000000000001" fill="none" stroke="#000" stroke-width="1.7"/>
<line x1="371.6" y1="298.0" x2="371.6" y2="301.5" stroke="#000" stroke-width="1.7"/>
<line x1="371.6" y1="196.7" x2="371.6" y2="200.2" stroke="#000" stroke-width="1.7"/>
<text transform="translate(371.6 318.3) scale(1 1.05)" text-anchor="middle" font-size="14.0" >0</text>
<line x1="424.1" y1="196.7" x2="424.1" y2="203.7" stroke="#000" stroke-width="1.7"/>
<line x1="424.1" y1="294.5" x2="424.1" y2="301.5" stroke="#000" stroke-width="1.7"/>
<text transform="translate(424.1 318.3) scale(1 1.05)" text-anchor="middle" font-size="14.0" >10</text>
<line x1="476.6" y1="196.7" x2="476.6" y2="203.7" stroke="#000" stroke-width="1.7"/>
<line x1="476.6" y1="294.5" x2="476.6" y2="301.5" stroke="#000" stroke-width="1.7"/>
<text transform="translate(476.6 318.3) scale(1 1.05)" text-anchor="middle" font-size="14.0" >20</text>
<line x1="529.1" y1="196.7" x2="529.1" y2="203.7" stroke="#000" stroke-width="1.7"/>
<line x1="529.1" y1="294.5" x2="529.1" y2="301.5" stroke="#000" stroke-width="1.7"/>
<text transform="translate(529.1 318.3) scale(1 1.05)" text-anchor="middle" font-size="14.0" >30</text>
<line x1="368.1" y1="275.7" x2="375.1" y2="275.7" stroke="#000" stroke-width="1.7"/>
<text transform="translate(361.4 280.5) scale(1 1.05)" text-anchor="end" font-size="14.0" >175</text>
<line x1="368.1" y1="246.0" x2="375.1" y2="246.0" stroke="#000" stroke-width="1.7"/>
<text transform="translate(361.4 250.8) scale(1 1.05)" text-anchor="end" font-size="14.0" >200</text>
<line x1="368.1" y1="216.3" x2="375.1" y2="216.3" stroke="#000" stroke-width="1.7"/>
<text transform="translate(361.4 221.1) scale(1 1.05)" text-anchor="end" font-size="14.0" >225</text>
<text transform="translate(326 249.1) rotate(-90) scale(1.05 1)" text-anchor="middle" font-size="14.0" >|<tspan font-style="italic">B</tspan>| [G]</text>
<text transform="translate(465.7 338.5) scale(1 1.05)" text-anchor="middle" font-size="14.0" >Δ<tspan font-style="italic">x</tspan> [arcsec]</text>
<svg x="371.6" y="200.2" width="188.19999999999993" height="97.80000000000001" viewBox="371.6 200.2 188.19999999999993 97.80000000000001" overflow="hidden"><polyline points="371.6,274.4 372.3,293.1 373.3,249.5 374.4,274.4 375.8,281.6 376.9,267.3 378.0,254.8 379.1,270.9 380.5,256.6 381.9,243.8 383.0,258.4 384.0,269.4 385.5,264.6 386.9,258.4 388.3,260.5 389.7,258.4 390.8,255.7 391.9,254.8 393.0,248.6 394.0,243.8 395.5,256.6 396.5,243.8 397.6,254.8 398.7,242.0 400.1,242.0 401.2,256.6 402.2,251.3 403.7,243.8 404.7,242.7 405.8,237.4 406.9,238.8 407.9,265.5 409.4,256.6 410.4,253.9 411.9,260.5 413.6,259.3 415.1,252.7 416.1,258.4 417.2,253.0 418.6,231.7 419.7,220.1 420.8,228.1 421.8,233.1 423.3,228.1 424.7,228.1 426.1,220.1 427.5,217.0 429.0,229.9 430.0,224.5 431.5,222.7 432.5,219.2 433.6,215.6 434.7,225.4 435.7,217.0 437.2,224.2 438.2,217.4 439.3,208.8 440.7,218.3 441.8,219.2 442.9,227.2 443.9,206.7 445.0,204.6 446.1,217.4 447.5,219.2 448.6,221.8 449.6,216.5 450.7,230.8 451.8,231.7 453.2,243.2 454.6,242.3 456.1,245.9 457.5,244.1 458.6,239.7 460.0,238.8 461.0,246.8 462.1,231.7 463.5,225.4 464.6,234.3 466.0,230.8 467.1,225.4 468.1,228.1 469.2,223.6 470.3,233.4 471.3,222.7 472.8,219.2 474.2,222.7 475.3,223.6 476.3,229.9 477.4,222.7 478.5,233.1 480.3,233.4 481.7,232.5 482.7,234.3 484.2,229.0 485.2,226.7 486.3,232.5 487.7,238.4 488.8,231.7 489.9,227.7 490.9,229.0 492.4,233.4 493.4,236.1 494.9,238.8 495.9,242.0 497.0,242.7 498.1,246.8 499.1,248.6 500.2,254.8 501.6,261.1 502.7,270.9 503.8,280.7 504.9,281.9 506.3,286.9 507.7,288.3 508.8,286.0 509.8,270.9 510.9,259.3 512.0,253.9 513.0,257.5 513.8,257.5 514.8,245.9 515.9,252.1 517.0,245.0 518.4,243.8 519.8,240.6 521.2,237.4 522.7,240.6 523.7,244.1 524.8,247.7 526.2,246.8 527.7,244.1 528.7,245.6 530.2,242.3 531.6,240.6 532.7,239.7 533.7,243.2 534.8,235.2 536.2,233.4 537.3,231.3 538.4,236.6 539.8,240.6 540.9,244.1 541.9,245.0 543.0,247.7 544.1,249.5 545.1,245.9 546.2,245.0 547.3,246.8 548.7,251.3 550.1,253.9 551.2,249.5 552.3,244.5 553.3,245.0 554.4,249.5 555.5,253.0 556.5,253.9 557.6,257.5 558.7,260.2 560.1,263.4" fill="none" stroke="#000" stroke-width="1.85" stroke-linejoin="round"/></svg>
<rect x="371.6" y="347.0" width="188.19999999999993" height="97.89999999999998" fill="none" stroke="#000" stroke-width="1.7"/>
<line x1="371.6" y1="444.9" x2="371.6" y2="448.4" stroke="#000" stroke-width="1.7"/>
<line x1="371.6" y1="343.5" x2="371.6" y2="347.0" stroke="#000" stroke-width="1.7"/>
<line x1="424.1" y1="343.5" x2="424.1" y2="350.5" stroke="#000" stroke-width="1.7"/>
<line x1="424.1" y1="441.4" x2="424.1" y2="448.4" stroke="#000" stroke-width="1.7"/>
<line x1="476.6" y1="343.5" x2="476.6" y2="350.5" stroke="#000" stroke-width="1.7"/>
<line x1="476.6" y1="441.4" x2="476.6" y2="448.4" stroke="#000" stroke-width="1.7"/>
<line x1="529.1" y1="343.5" x2="529.1" y2="350.5" stroke="#000" stroke-width="1.7"/>
<line x1="529.1" y1="441.4" x2="529.1" y2="448.4" stroke="#000" stroke-width="1.7"/>
<line x1="368.1" y1="423.9" x2="375.1" y2="423.9" stroke="#000" stroke-width="1.7"/>
<text transform="translate(361.4 428.7) scale(1 1.05)" text-anchor="end" font-size="14.0" >0.175</text>
<line x1="368.1" y1="390.3" x2="375.1" y2="390.3" stroke="#000" stroke-width="1.7"/>
<text transform="translate(361.4 395.1) scale(1 1.05)" text-anchor="end" font-size="14.0" >0.200</text>
<line x1="368.1" y1="356.7" x2="375.1" y2="356.7" stroke="#000" stroke-width="1.7"/>
<text transform="translate(361.4 361.5) scale(1 1.05)" text-anchor="end" font-size="14.0" >0.225</text>
<text transform="translate(316.5 395.95) rotate(-90) scale(1.05 1)" text-anchor="middle" font-size="14.0" ><tspan font-style="italic">I</tspan><tspan font-size="10.4" dy="3.6">0</tspan><tspan dy="-3.6">/</tspan><tspan font-style="italic">I</tspan><tspan font-size="9.3" font-style="italic" dy="2.5">c</tspan></text>
<svg x="371.6" y="347.0" width="188.19999999999993" height="97.89999999999998" viewBox="371.6 347.0 188.19999999999993 97.89999999999998" overflow="hidden"><polyline points="371.6,386.7 372.6,389.3 374.1,412.5 375.5,431.6 376.9,430.3 378.3,421.4 380.1,411.6 381.5,396.5 383.0,381.3 384.0,380.4 385.5,376.5 387.3,376.9 388.7,377.8 390.1,384.9 391.5,396.5 393.0,409.0 394.7,421.4 396.5,428.6 398.3,428.9 400.1,428.9 401.2,424.1 402.6,422.9 404.0,417.9 405.4,416.4 406.9,411.6 408.3,410.4 409.4,413.4 410.4,417.9 411.9,418.8 413.3,415.2 414.7,414.3 415.8,409.8 417.2,409.3 418.6,406.8 420.0,409.0 421.5,413.4 422.9,411.6 424.3,409.8 425.4,409.0 426.8,411.6 428.2,419.6 429.7,425.9 431.1,425.4 432.5,414.3 434.0,398.3 435.4,384.9 436.4,392.9 437.5,401.8 438.9,409.8 440.0,405.4 441.1,409.0 442.5,400.0 443.9,399.7 445.0,399.1 446.1,406.3 447.5,412.5 448.6,414.3 450.0,416.1 451.4,421.4 452.8,427.7 454.3,433.6 455.7,426.8 456.8,423.2 457.8,422.9 458.9,420.5 460.0,418.8 461.0,405.4 462.4,394.7 463.9,388.5 465.3,384.9 466.7,380.4 467.8,376.0 469.2,374.7 470.3,383.1 471.7,389.3 472.8,376.9 473.8,364.4 474.9,363.5 476.0,354.6 477.0,351.6 478.1,360.8 479.2,378.7 480.3,396.5 481.3,406.3 482.4,409.0 483.5,407.2 484.9,409.3 486.3,410.4 487.7,409.3 488.8,412.5 489.9,417.9 490.9,420.0 492.4,417.0 493.8,415.2 494.9,416.1 495.9,421.4 497.0,432.1 498.1,440.1 499.1,440.7 500.2,438.4 501.6,433.9 502.7,431.8 503.8,437.5 505.2,439.3 506.3,435.7 507.3,425.9 508.8,419.6 509.8,417.9 510.9,420.5 512.0,416.1 513.0,414.3 514.1,410.7 515.2,420.5 516.3,416.1 517.3,415.2 518.4,403.6 519.5,401.8 520.5,394.7 521.6,391.1 522.3,391.5 523.4,400.0 524.5,391.1 525.5,385.8 526.6,384.9 528.0,380.4 529.1,379.5 530.2,384.9 531.6,393.8 533.0,400.0 534.1,403.2 535.2,402.7 536.6,398.3 538.0,393.8 539.1,391.1 540.1,384.0 541.2,376.0 542.3,372.9 543.7,372.9 545.1,375.1 546.6,373.3 547.6,376.0 548.7,381.3 549.8,388.5 550.8,394.7 551.9,387.6 553.0,385.8 554.0,374.2 555.1,373.3 556.2,380.4 557.3,389.3 558.3,396.5 559.4,403.6 560.5,410.7" fill="none" stroke="#000" stroke-width="1.85" stroke-linejoin="round"/></svg>
<rect x="371.6" y="444.9" width="188.19999999999993" height="97.80000000000007" fill="none" stroke="#000" stroke-width="1.7"/>
<line x1="371.6" y1="542.7" x2="371.6" y2="546.2" stroke="#000" stroke-width="1.7"/>
<line x1="371.6" y1="441.4" x2="371.6" y2="444.9" stroke="#000" stroke-width="1.7"/>
<line x1="424.1" y1="441.4" x2="424.1" y2="448.4" stroke="#000" stroke-width="1.7"/>
<line x1="424.1" y1="539.2" x2="424.1" y2="546.2" stroke="#000" stroke-width="1.7"/>
<line x1="476.6" y1="441.4" x2="476.6" y2="448.4" stroke="#000" stroke-width="1.7"/>
<line x1="476.6" y1="539.2" x2="476.6" y2="546.2" stroke="#000" stroke-width="1.7"/>
<line x1="529.1" y1="441.4" x2="529.1" y2="448.4" stroke="#000" stroke-width="1.7"/>
<line x1="529.1" y1="539.2" x2="529.1" y2="546.2" stroke="#000" stroke-width="1.7"/>
<line x1="368.1" y1="538.3" x2="375.1" y2="538.3" stroke="#000" stroke-width="1.7"/>
<text transform="translate(361.4 543.1) scale(1 1.05)" text-anchor="end" font-size="14.0" >0</text>
<line x1="368.1" y1="504.8" x2="375.1" y2="504.8" stroke="#000" stroke-width="1.7"/>
<text transform="translate(361.4 509.6) scale(1 1.05)" text-anchor="end" font-size="14.0" >25</text>
<line x1="368.1" y1="471.3" x2="375.1" y2="471.3" stroke="#000" stroke-width="1.7"/>
<text transform="translate(361.4 476.1) scale(1 1.05)" text-anchor="end" font-size="14.0" >50</text>
<text transform="translate(319.5 493.8) rotate(-90) scale(1.05 1)" text-anchor="middle" font-size="14.0" >|<tspan font-style="italic">B</tspan><tspan font-size="10.4" dy="3.6">LOS</tspan><tspan dy="-3.6">| [G]</tspan></text>
<svg x="371.6" y="444.9" width="188.19999999999993" height="97.80000000000007" viewBox="371.6 444.9 188.19999999999993 97.80000000000007" overflow="hidden"><polyline points="371.6,531.9 372.6,526.6 373.7,512.3 375.1,523.9 376.6,513.7 377.6,524.8 379.1,529.2 380.5,538.7 381.5,524.8 382.6,479.3 383.7,487.3 384.8,509.6 385.8,492.7 386.9,509.6 388.0,511.4 389.7,531.9 390.8,529.2 391.9,501.6 393.0,517.6 394.0,479.3 395.1,507.0 396.2,494.5 397.2,495.4 398.7,533.3 400.1,524.8 401.2,528.3 402.2,521.2 403.3,488.2 404.4,515.9 405.4,517.3 406.5,486.5 407.6,512.3 409.0,528.3 410.4,497.7 411.5,501.6 412.6,509.6 414.0,533.7 415.1,533.7 416.5,508.7 417.6,494.5 418.6,485.9 419.7,494.5 421.1,505.2 422.2,514.1 423.3,530.1 424.3,538.1 425.4,523.9 426.5,528.3 427.5,527.5 428.6,523.0 429.7,515.0 430.7,537.3 431.8,515.9 432.9,517.6 434.0,526.6 435.4,533.7 436.4,524.8 437.9,485.6 438.9,498.0 440.4,499.8 441.4,505.2 442.9,518.5 443.9,511.4 445.0,494.5 446.1,501.6 447.1,496.3 448.2,509.6 449.3,515.9 450.7,530.1 451.8,517.6 452.8,495.9 454.3,526.6 455.3,502.5 456.4,493.6 457.5,493.0 458.6,526.6 460.0,530.1 461.0,519.4 462.1,510.9 463.1,521.2 464.2,482.0 465.6,485.6 466.7,497.1 467.8,464.2 468.8,477.5 470.3,482.9 471.3,478.4 472.4,483.8 473.8,496.3 474.9,496.3 476.0,468.6 477.0,499.8 478.1,449.6 479.2,480.2 480.6,507.8 482.0,499.8 483.1,494.5 484.2,493.6 485.6,490.9 486.7,498.0 487.7,523.9 488.8,526.6 489.9,532.8 490.9,517.6 492.0,504.3 493.4,493.0 494.5,505.2 495.6,532.8 496.7,517.6 497.7,537.3 498.8,536.4 499.9,521.2 500.9,533.7 502.0,525.7 503.4,527.5 504.5,524.8 505.6,533.7 507.0,519.4 508.1,525.7 509.1,531.9 510.2,521.2 511.3,528.3 512.3,525.7 513.4,529.2 514.5,526.6 515.5,532.8 516.6,538.1 517.7,538.1 518.8,513.7 519.8,521.2 520.9,533.7 522.0,528.3 523.0,537.3 524.5,526.6 525.5,508.7 527.0,507.8 528.4,504.3 529.4,503.4 530.2,532.8 531.2,496.3 532.3,504.3 533.4,510.9 535.5,511.4 536.6,502.5 537.3,494.8 538.4,506.1 539.4,531.0 540.5,507.8 541.6,515.0 542.6,509.6 544.1,507.8 545.5,505.2 546.9,502.5 548.3,499.5 549.8,499.8 551.2,498.0 552.3,502.5 553.3,515.9 554.0,523.9 555.1,522.1 555.8,531.0 556.9,513.2 558.0,523.0 559.0,531.9 560.1,533.7" fill="none" stroke="#000" stroke-width="1.85" stroke-linejoin="round"/></svg>
<rect x="371.6" y="542.7" width="188.19999999999993" height="98.09999999999991" fill="none" stroke="#000" stroke-width="1.7"/>
<line x1="371.6" y1="640.8" x2="371.6" y2="644.3" stroke="#000" stroke-width="1.7"/>
<line x1="371.6" y1="539.2" x2="371.6" y2="542.7" stroke="#000" stroke-width="1.7"/>
<text transform="translate(371.6 661.0999999999999) scale(1 1.05)" text-anchor="middle" font-size="14.0" >0</text>
<line x1="424.1" y1="539.2" x2="424.1" y2="546.2" stroke="#000" stroke-width="1.7"/>
<line x1="424.1" y1="637.3" x2="424.1" y2="644.3" stroke="#000" stroke-width="1.7"/>
<text transform="translate(424.1 661.0999999999999) scale(1 1.05)" text-anchor="middle" font-size="14.0" >10</text>
<line x1="476.6" y1="539.2" x2="476.6" y2="546.2" stroke="#000" stroke-width="1.7"/>
<line x1="476.6" y1="637.3" x2="476.6" y2="644.3" stroke="#000" stroke-width="1.7"/>
<text transform="translate(476.6 661.0999999999999) scale(1 1.05)" text-anchor="middle" font-size="14.0" >20</text>
<line x1="529.1" y1="539.2" x2="529.1" y2="546.2" stroke="#000" stroke-width="1.7"/>
<line x1="529.1" y1="637.3" x2="529.1" y2="644.3" stroke="#000" stroke-width="1.7"/>
<text transform="translate(529.1 661.0999999999999) scale(1 1.05)" text-anchor="middle" font-size="14.0" >30</text>
<line x1="368.1" y1="619.8" x2="375.1" y2="619.8" stroke="#000" stroke-width="1.7"/>
<text transform="translate(361.4 624.6) scale(1 1.05)" text-anchor="end" font-size="14.0" >250</text>
<line x1="368.1" y1="561.4" x2="375.1" y2="561.4" stroke="#000" stroke-width="1.7"/>
<text transform="translate(361.4 566.2) scale(1 1.05)" text-anchor="end" font-size="14.0" >300</text>
<text transform="translate(322 591.75) rotate(-90) scale(1.05 1)" text-anchor="middle" font-size="14.0" >|<tspan font-style="italic">B</tspan>| [G]</text>
<text transform="translate(465.7 681.3) scale(1 1.05)" text-anchor="middle" font-size="14.0" >Δ<tspan font-style="italic">x</tspan> [arcsec]</text>
<svg x="371.6" y="542.7" width="188.19999999999993" height="98.09999999999991" viewBox="371.6 542.7 188.19999999999993 98.09999999999991" overflow="hidden"><polyline points="371.6,590.7 373.3,586.2 375.5,581.8 377.6,577.9 379.8,575.0 381.5,572.9 382.6,567.2 384.4,566.6 386.2,564.8 388.0,564.0 390.1,562.2 391.5,560.0 392.6,560.7 394.0,557.2 395.5,559.0 397.2,557.2 399.4,558.6 401.5,560.4 402.9,556.5 404.7,554.7 406.5,550.1 407.9,551.1 409.7,548.8 411.5,547.0 413.3,548.8 415.4,550.1 417.6,552.4 419.3,556.5 421.1,564.0 422.9,567.5 424.7,573.8 426.5,579.1 428.2,582.7 430.4,585.3 432.5,588.6 434.3,592.1 436.1,596.0 438.2,597.5 440.0,600.5 441.8,603.2 442.9,605.3 444.6,604.6 447.1,604.1 448.9,605.0 450.7,605.8 452.5,604.1 453.9,602.8 455.3,604.6 457.1,604.1 458.6,608.5 460.0,610.3 461.0,611.7 462.4,613.5 463.5,615.3 464.6,613.9 465.6,617.4 466.7,616.0 467.8,618.3 469.2,618.9 470.6,620.1 472.1,621.4 473.5,622.4 474.9,622.8 476.0,620.1 477.0,623.7 478.1,616.5 479.2,623.7 480.6,626.7 482.4,626.3 484.2,626.0 485.6,626.3 487.0,629.9 488.5,632.6 490.2,634.4 491.7,634.4 493.1,633.1 494.5,634.4 495.6,636.1 497.0,633.5 498.4,632.0 499.9,629.0 501.3,627.2 502.7,621.9 504.1,616.5 505.6,613.9 507.3,611.2 509.1,609.9 510.9,608.5 512.7,608.2 514.5,608.9 516.3,609.9 518.0,610.3 519.8,611.7 521.2,613.0 522.7,613.9 524.1,612.4 525.5,610.3 527.0,608.9 528.4,606.7 529.4,605.8 530.5,606.7 531.6,603.2 533.0,602.8 534.4,602.3 535.9,601.7 537.3,601.7 538.4,604.1 539.8,607.6 541.2,611.2 542.6,616.5 544.1,621.9 545.5,625.5 546.9,628.1 548.3,627.8 550.1,626.3 551.6,624.9 553.0,624.6 554.4,622.8 555.8,621.4 557.3,620.1 558.7,619.2 560.1,618.3" fill="none" stroke="#000" stroke-width="1.85" stroke-linejoin="round"/></svg>
</svg>
</body></html>
